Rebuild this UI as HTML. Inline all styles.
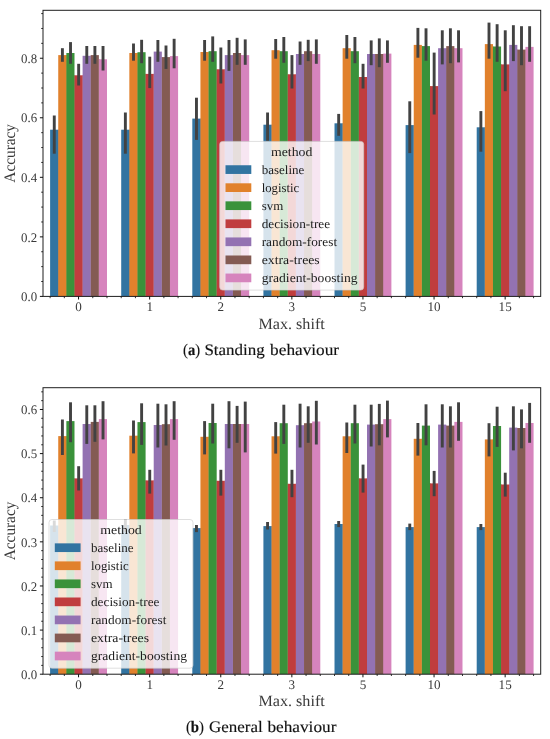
<!DOCTYPE html>
<html lang="en">
<head>
<meta charset="utf-8">
<title>Accuracy vs. max. shift</title>
<style>
html,body{margin:0;padding:0;background:#ffffff;}
body{width:550px;height:739px;overflow:hidden;}
svg{display:block;}
svg text{font-family:"Liberation Serif", serif;fill:#3a3a3a;text-rendering:geometricPrecision;}
svg text.lg{fill:#1c1c1c;}
svg text.cap{font-family:"Liberation Serif", "DejaVu Serif", serif;fill:#111111;stroke:#111111;stroke-width:0.15px;}
</style>
</head>
<body>
<svg width="550" height="739" viewBox="0 0 550 739">
<rect x="0" y="0" width="550" height="739" fill="#ffffff"/>
<g id="chart-a">
<rect x="50.11" y="129.7" width="8.13" height="166.7" fill="#3274a1"/>
<rect x="58.04" y="129.7" width="0.8" height="166.7" fill="#3274a1"/>
<rect x="58.24" y="55.1" width="8.13" height="241.3" fill="#e1812c"/>
<rect x="66.16" y="55.1" width="0.8" height="241.3" fill="#e1812c"/>
<rect x="66.36" y="53" width="8.13" height="243.4" fill="#3a923a"/>
<rect x="74.29" y="75.3" width="0.8" height="221.1" fill="#3a923a"/>
<rect x="74.49" y="75.3" width="8.13" height="221.1" fill="#c03d3e"/>
<rect x="82.41" y="75.3" width="0.8" height="221.1" fill="#c03d3e"/>
<rect x="82.61" y="55.8" width="8.13" height="240.6" fill="#9372b2"/>
<rect x="90.54" y="55.8" width="0.8" height="240.6" fill="#9372b2"/>
<rect x="90.74" y="55.1" width="8.13" height="241.3" fill="#845b53"/>
<rect x="98.66" y="59.3" width="0.8" height="237.1" fill="#845b53"/>
<rect x="98.86" y="59.3" width="8.13" height="237.1" fill="#d684bd"/>
<line x1="54.27" y1="115.5" x2="54.27" y2="153.7" stroke="#424242" stroke-width="2.9"/>
<line x1="62.4" y1="48.2" x2="62.4" y2="61.8" stroke="#424242" stroke-width="2.9"/>
<line x1="70.52" y1="42.1" x2="70.52" y2="63.8" stroke="#424242" stroke-width="2.9"/>
<line x1="78.65" y1="63.8" x2="78.65" y2="85.5" stroke="#424242" stroke-width="2.9"/>
<line x1="86.78" y1="46" x2="86.78" y2="63.8" stroke="#424242" stroke-width="2.9"/>
<line x1="94.9" y1="46" x2="94.9" y2="63.8" stroke="#424242" stroke-width="2.9"/>
<line x1="103.03" y1="46" x2="103.03" y2="70.5" stroke="#424242" stroke-width="2.9"/>
<rect x="121.21" y="129.7" width="8.13" height="166.7" fill="#3274a1"/>
<rect x="129.14" y="129.7" width="0.8" height="166.7" fill="#3274a1"/>
<rect x="129.34" y="53" width="8.13" height="243.4" fill="#e1812c"/>
<rect x="137.26" y="53" width="0.8" height="243.4" fill="#e1812c"/>
<rect x="137.46" y="52.2" width="8.13" height="244.2" fill="#3a923a"/>
<rect x="145.39" y="73.9" width="0.8" height="222.5" fill="#3a923a"/>
<rect x="145.59" y="73.9" width="8.13" height="222.5" fill="#c03d3e"/>
<rect x="153.51" y="73.9" width="0.8" height="222.5" fill="#c03d3e"/>
<rect x="153.71" y="51.6" width="8.13" height="244.8" fill="#9372b2"/>
<rect x="161.64" y="57.1" width="0.8" height="239.3" fill="#9372b2"/>
<rect x="161.84" y="57.1" width="8.13" height="239.3" fill="#845b53"/>
<rect x="169.76" y="57.1" width="0.8" height="239.3" fill="#845b53"/>
<rect x="169.96" y="56.1" width="8.13" height="240.3" fill="#d684bd"/>
<line x1="125.37" y1="112.5" x2="125.37" y2="153.7" stroke="#424242" stroke-width="2.9"/>
<line x1="133.5" y1="43.5" x2="133.5" y2="60.7" stroke="#424242" stroke-width="2.9"/>
<line x1="141.62" y1="39.8" x2="141.62" y2="63.2" stroke="#424242" stroke-width="2.9"/>
<line x1="149.75" y1="56.7" x2="149.75" y2="88.1" stroke="#424242" stroke-width="2.9"/>
<line x1="157.88" y1="40" x2="157.88" y2="61.8" stroke="#424242" stroke-width="2.9"/>
<line x1="166" y1="45.5" x2="166" y2="68.9" stroke="#424242" stroke-width="2.9"/>
<line x1="174.13" y1="38.8" x2="174.13" y2="68.3" stroke="#424242" stroke-width="2.9"/>
<rect x="192.31" y="118.6" width="8.13" height="177.8" fill="#3274a1"/>
<rect x="200.24" y="118.6" width="0.8" height="177.8" fill="#3274a1"/>
<rect x="200.44" y="52" width="8.13" height="244.4" fill="#e1812c"/>
<rect x="208.36" y="52" width="0.8" height="244.4" fill="#e1812c"/>
<rect x="208.56" y="51.2" width="8.13" height="245.2" fill="#3a923a"/>
<rect x="216.49" y="69.3" width="0.8" height="227.1" fill="#3a923a"/>
<rect x="216.69" y="69.3" width="8.13" height="227.1" fill="#c03d3e"/>
<rect x="224.61" y="69.3" width="0.8" height="227.1" fill="#c03d3e"/>
<rect x="224.81" y="55.1" width="8.13" height="241.3" fill="#9372b2"/>
<rect x="232.74" y="55.1" width="0.8" height="241.3" fill="#9372b2"/>
<rect x="232.94" y="53" width="8.13" height="243.4" fill="#845b53"/>
<rect x="240.86" y="55.1" width="0.8" height="241.3" fill="#845b53"/>
<rect x="241.06" y="55.1" width="8.13" height="241.3" fill="#d684bd"/>
<line x1="196.47" y1="97.7" x2="196.47" y2="139.9" stroke="#424242" stroke-width="2.9"/>
<line x1="204.6" y1="40" x2="204.6" y2="60.7" stroke="#424242" stroke-width="2.9"/>
<line x1="212.72" y1="36.4" x2="212.72" y2="61.8" stroke="#424242" stroke-width="2.9"/>
<line x1="220.85" y1="47.5" x2="220.85" y2="83.5" stroke="#424242" stroke-width="2.9"/>
<line x1="228.98" y1="40" x2="228.98" y2="70.9" stroke="#424242" stroke-width="2.9"/>
<line x1="237.1" y1="37.8" x2="237.1" y2="64.8" stroke="#424242" stroke-width="2.9"/>
<line x1="245.23" y1="39.4" x2="245.23" y2="64.8" stroke="#424242" stroke-width="2.9"/>
<rect x="263.41" y="124.7" width="8.13" height="171.7" fill="#3274a1"/>
<rect x="271.34" y="124.7" width="0.8" height="171.7" fill="#3274a1"/>
<rect x="271.54" y="50.2" width="8.13" height="246.2" fill="#e1812c"/>
<rect x="279.46" y="51.2" width="0.8" height="245.2" fill="#e1812c"/>
<rect x="279.66" y="51.2" width="8.13" height="245.2" fill="#3a923a"/>
<rect x="287.59" y="74.3" width="0.8" height="222.1" fill="#3a923a"/>
<rect x="287.79" y="74.3" width="8.13" height="222.1" fill="#c03d3e"/>
<rect x="295.71" y="74.3" width="0.8" height="222.1" fill="#c03d3e"/>
<rect x="295.91" y="54" width="8.13" height="242.4" fill="#9372b2"/>
<rect x="303.84" y="54" width="0.8" height="242.4" fill="#9372b2"/>
<rect x="304.04" y="51.2" width="8.13" height="245.2" fill="#845b53"/>
<rect x="311.96" y="54" width="0.8" height="242.4" fill="#845b53"/>
<rect x="312.16" y="54" width="8.13" height="242.4" fill="#d684bd"/>
<line x1="267.57" y1="112.5" x2="267.57" y2="140.9" stroke="#424242" stroke-width="2.9"/>
<line x1="275.7" y1="39" x2="275.7" y2="58.7" stroke="#424242" stroke-width="2.9"/>
<line x1="283.82" y1="37" x2="283.82" y2="62.8" stroke="#424242" stroke-width="2.9"/>
<line x1="291.95" y1="55.1" x2="291.95" y2="88.5" stroke="#424242" stroke-width="2.9"/>
<line x1="300.08" y1="41.5" x2="300.08" y2="64.8" stroke="#424242" stroke-width="2.9"/>
<line x1="308.2" y1="39.8" x2="308.2" y2="61.1" stroke="#424242" stroke-width="2.9"/>
<line x1="316.33" y1="39.4" x2="316.33" y2="63.8" stroke="#424242" stroke-width="2.9"/>
<rect x="334.51" y="123.3" width="8.13" height="173.1" fill="#3274a1"/>
<rect x="342.44" y="123.3" width="0.8" height="173.1" fill="#3274a1"/>
<rect x="342.64" y="48.2" width="8.13" height="248.2" fill="#e1812c"/>
<rect x="350.56" y="51.2" width="0.8" height="245.2" fill="#e1812c"/>
<rect x="350.76" y="51.2" width="8.13" height="245.2" fill="#3a923a"/>
<rect x="358.69" y="77" width="0.8" height="219.4" fill="#3a923a"/>
<rect x="358.89" y="77" width="8.13" height="219.4" fill="#c03d3e"/>
<rect x="366.81" y="77" width="0.8" height="219.4" fill="#c03d3e"/>
<rect x="367.01" y="54" width="8.13" height="242.4" fill="#9372b2"/>
<rect x="374.94" y="54" width="0.8" height="242.4" fill="#9372b2"/>
<rect x="375.14" y="54" width="8.13" height="242.4" fill="#845b53"/>
<rect x="383.06" y="54" width="0.8" height="242.4" fill="#845b53"/>
<rect x="383.26" y="53.6" width="8.13" height="242.8" fill="#d684bd"/>
<line x1="338.67" y1="113.9" x2="338.67" y2="135.8" stroke="#424242" stroke-width="2.9"/>
<line x1="346.8" y1="35" x2="346.8" y2="58.7" stroke="#424242" stroke-width="2.9"/>
<line x1="354.92" y1="37" x2="354.92" y2="63.2" stroke="#424242" stroke-width="2.9"/>
<line x1="363.05" y1="63.8" x2="363.05" y2="88.5" stroke="#424242" stroke-width="2.9"/>
<line x1="371.18" y1="40.4" x2="371.18" y2="65.2" stroke="#424242" stroke-width="2.9"/>
<line x1="379.3" y1="38.4" x2="379.3" y2="67.2" stroke="#424242" stroke-width="2.9"/>
<line x1="387.43" y1="40.4" x2="387.43" y2="62.8" stroke="#424242" stroke-width="2.9"/>
<rect x="405.61" y="125.1" width="8.13" height="171.3" fill="#3274a1"/>
<rect x="413.54" y="125.1" width="0.8" height="171.3" fill="#3274a1"/>
<rect x="413.74" y="44.9" width="8.13" height="251.5" fill="#e1812c"/>
<rect x="421.66" y="46.1" width="0.8" height="250.3" fill="#e1812c"/>
<rect x="421.86" y="46.1" width="8.13" height="250.3" fill="#3a923a"/>
<rect x="429.79" y="86.1" width="0.8" height="210.3" fill="#3a923a"/>
<rect x="429.99" y="86.1" width="8.13" height="210.3" fill="#c03d3e"/>
<rect x="437.91" y="86.1" width="0.8" height="210.3" fill="#c03d3e"/>
<rect x="438.11" y="48.2" width="8.13" height="248.2" fill="#9372b2"/>
<rect x="446.04" y="48.2" width="0.8" height="248.2" fill="#9372b2"/>
<rect x="446.24" y="46.1" width="8.13" height="250.3" fill="#845b53"/>
<rect x="454.16" y="48.2" width="0.8" height="248.2" fill="#845b53"/>
<rect x="454.36" y="48.2" width="8.13" height="248.2" fill="#d684bd"/>
<line x1="409.77" y1="101.3" x2="409.77" y2="153.1" stroke="#424242" stroke-width="2.9"/>
<line x1="417.9" y1="27.9" x2="417.9" y2="57.7" stroke="#424242" stroke-width="2.9"/>
<line x1="426.02" y1="28.3" x2="426.02" y2="60.7" stroke="#424242" stroke-width="2.9"/>
<line x1="434.15" y1="52.6" x2="434.15" y2="114.5" stroke="#424242" stroke-width="2.9"/>
<line x1="442.28" y1="30.3" x2="442.28" y2="64.4" stroke="#424242" stroke-width="2.9"/>
<line x1="450.4" y1="28.3" x2="450.4" y2="63.2" stroke="#424242" stroke-width="2.9"/>
<line x1="458.53" y1="30.3" x2="458.53" y2="62.4" stroke="#424242" stroke-width="2.9"/>
<rect x="476.71" y="127.3" width="8.13" height="169.1" fill="#3274a1"/>
<rect x="484.64" y="127.3" width="0.8" height="169.1" fill="#3274a1"/>
<rect x="484.84" y="44.1" width="8.13" height="252.3" fill="#e1812c"/>
<rect x="492.76" y="46.5" width="0.8" height="249.9" fill="#e1812c"/>
<rect x="492.96" y="46.5" width="8.13" height="249.9" fill="#3a923a"/>
<rect x="500.89" y="64.4" width="0.8" height="232" fill="#3a923a"/>
<rect x="501.09" y="64.4" width="8.13" height="232" fill="#c03d3e"/>
<rect x="509.01" y="64.4" width="0.8" height="232" fill="#c03d3e"/>
<rect x="509.21" y="44.9" width="8.13" height="251.5" fill="#9372b2"/>
<rect x="517.14" y="49.6" width="0.8" height="246.8" fill="#9372b2"/>
<rect x="517.34" y="49.6" width="8.13" height="246.8" fill="#845b53"/>
<rect x="525.26" y="49.6" width="0.8" height="246.8" fill="#845b53"/>
<rect x="525.46" y="46.9" width="8.13" height="249.5" fill="#d684bd"/>
<line x1="480.87" y1="111.1" x2="480.87" y2="151.7" stroke="#424242" stroke-width="2.9"/>
<line x1="489" y1="22.6" x2="489" y2="58.7" stroke="#424242" stroke-width="2.9"/>
<line x1="497.12" y1="24.2" x2="497.12" y2="61.8" stroke="#424242" stroke-width="2.9"/>
<line x1="505.25" y1="30.3" x2="505.25" y2="91.2" stroke="#424242" stroke-width="2.9"/>
<line x1="513.38" y1="25.2" x2="513.38" y2="61.1" stroke="#424242" stroke-width="2.9"/>
<line x1="521.5" y1="26.2" x2="521.5" y2="65.2" stroke="#424242" stroke-width="2.9"/>
<line x1="529.63" y1="26.2" x2="529.63" y2="61.8" stroke="#424242" stroke-width="2.9"/>
<rect x="43" y="10.3" width="497.7" height="286.1" fill="none" stroke="#1e1e1e" stroke-width="1"/>
<line x1="78.55" y1="296.4" x2="78.55" y2="299.5" stroke="#111111" stroke-width="1"/>
<text x="78.55" y="311.2" text-anchor="middle" font-size="13.1">0</text>
<line x1="149.65" y1="296.4" x2="149.65" y2="299.5" stroke="#111111" stroke-width="1"/>
<text x="149.65" y="311.2" text-anchor="middle" font-size="13.1">1</text>
<line x1="220.75" y1="296.4" x2="220.75" y2="299.5" stroke="#111111" stroke-width="1"/>
<text x="220.75" y="311.2" text-anchor="middle" font-size="13.1">2</text>
<line x1="291.85" y1="296.4" x2="291.85" y2="299.5" stroke="#111111" stroke-width="1"/>
<text x="291.85" y="311.2" text-anchor="middle" font-size="13.1">3</text>
<line x1="362.95" y1="296.4" x2="362.95" y2="299.5" stroke="#111111" stroke-width="1"/>
<text x="362.95" y="311.2" text-anchor="middle" font-size="13.1">5</text>
<line x1="434.05" y1="296.4" x2="434.05" y2="299.5" stroke="#111111" stroke-width="1"/>
<text x="434.05" y="311.2" text-anchor="middle" font-size="13.1">10</text>
<line x1="505.15" y1="296.4" x2="505.15" y2="299.5" stroke="#111111" stroke-width="1"/>
<text x="505.15" y="311.2" text-anchor="middle" font-size="13.1">15</text>
<line x1="50.11" y1="296.4" x2="50.11" y2="298.2" stroke="#111111" stroke-width="0.85"/>
<line x1="64.33" y1="296.4" x2="64.33" y2="298.2" stroke="#111111" stroke-width="0.85"/>
<line x1="92.77" y1="296.4" x2="92.77" y2="298.2" stroke="#111111" stroke-width="0.85"/>
<line x1="106.99" y1="296.4" x2="106.99" y2="298.2" stroke="#111111" stroke-width="0.85"/>
<line x1="121.21" y1="296.4" x2="121.21" y2="298.2" stroke="#111111" stroke-width="0.85"/>
<line x1="135.43" y1="296.4" x2="135.43" y2="298.2" stroke="#111111" stroke-width="0.85"/>
<line x1="163.87" y1="296.4" x2="163.87" y2="298.2" stroke="#111111" stroke-width="0.85"/>
<line x1="178.09" y1="296.4" x2="178.09" y2="298.2" stroke="#111111" stroke-width="0.85"/>
<line x1="192.31" y1="296.4" x2="192.31" y2="298.2" stroke="#111111" stroke-width="0.85"/>
<line x1="206.53" y1="296.4" x2="206.53" y2="298.2" stroke="#111111" stroke-width="0.85"/>
<line x1="234.97" y1="296.4" x2="234.97" y2="298.2" stroke="#111111" stroke-width="0.85"/>
<line x1="249.19" y1="296.4" x2="249.19" y2="298.2" stroke="#111111" stroke-width="0.85"/>
<line x1="263.41" y1="296.4" x2="263.41" y2="298.2" stroke="#111111" stroke-width="0.85"/>
<line x1="277.63" y1="296.4" x2="277.63" y2="298.2" stroke="#111111" stroke-width="0.85"/>
<line x1="306.07" y1="296.4" x2="306.07" y2="298.2" stroke="#111111" stroke-width="0.85"/>
<line x1="320.29" y1="296.4" x2="320.29" y2="298.2" stroke="#111111" stroke-width="0.85"/>
<line x1="334.51" y1="296.4" x2="334.51" y2="298.2" stroke="#111111" stroke-width="0.85"/>
<line x1="348.73" y1="296.4" x2="348.73" y2="298.2" stroke="#111111" stroke-width="0.85"/>
<line x1="377.17" y1="296.4" x2="377.17" y2="298.2" stroke="#111111" stroke-width="0.85"/>
<line x1="391.39" y1="296.4" x2="391.39" y2="298.2" stroke="#111111" stroke-width="0.85"/>
<line x1="405.61" y1="296.4" x2="405.61" y2="298.2" stroke="#111111" stroke-width="0.85"/>
<line x1="419.83" y1="296.4" x2="419.83" y2="298.2" stroke="#111111" stroke-width="0.85"/>
<line x1="448.27" y1="296.4" x2="448.27" y2="298.2" stroke="#111111" stroke-width="0.85"/>
<line x1="462.49" y1="296.4" x2="462.49" y2="298.2" stroke="#111111" stroke-width="0.85"/>
<line x1="476.71" y1="296.4" x2="476.71" y2="298.2" stroke="#111111" stroke-width="0.85"/>
<line x1="490.93" y1="296.4" x2="490.93" y2="298.2" stroke="#111111" stroke-width="0.85"/>
<line x1="519.37" y1="296.4" x2="519.37" y2="298.2" stroke="#111111" stroke-width="0.85"/>
<line x1="533.59" y1="296.4" x2="533.59" y2="298.2" stroke="#111111" stroke-width="0.85"/>
<line x1="43" y1="296.4" x2="39.9" y2="296.4" stroke="#111111" stroke-width="1"/>
<text x="37.2" y="301.1" text-anchor="end" font-size="13.1" textLength="16.1" lengthAdjust="spacingAndGlyphs">0.0</text>
<line x1="43" y1="236.86" x2="39.9" y2="236.86" stroke="#111111" stroke-width="1"/>
<text x="37.2" y="241.56" text-anchor="end" font-size="13.1" textLength="16.1" lengthAdjust="spacingAndGlyphs">0.2</text>
<line x1="43" y1="177.32" x2="39.9" y2="177.32" stroke="#111111" stroke-width="1"/>
<text x="37.2" y="182.02" text-anchor="end" font-size="13.1" textLength="16.1" lengthAdjust="spacingAndGlyphs">0.4</text>
<line x1="43" y1="117.78" x2="39.9" y2="117.78" stroke="#111111" stroke-width="1"/>
<text x="37.2" y="122.48" text-anchor="end" font-size="13.1" textLength="16.1" lengthAdjust="spacingAndGlyphs">0.6</text>
<line x1="43" y1="58.24" x2="39.9" y2="58.24" stroke="#111111" stroke-width="1"/>
<text x="37.2" y="62.94" text-anchor="end" font-size="13.1" textLength="16.1" lengthAdjust="spacingAndGlyphs">0.8</text>
<line x1="43" y1="281.51" x2="41.2" y2="281.51" stroke="#111111" stroke-width="0.85"/>
<line x1="43" y1="266.63" x2="41.2" y2="266.63" stroke="#111111" stroke-width="0.85"/>
<line x1="43" y1="251.74" x2="41.2" y2="251.74" stroke="#111111" stroke-width="0.85"/>
<line x1="43" y1="221.97" x2="41.2" y2="221.97" stroke="#111111" stroke-width="0.85"/>
<line x1="43" y1="207.09" x2="41.2" y2="207.09" stroke="#111111" stroke-width="0.85"/>
<line x1="43" y1="192.2" x2="41.2" y2="192.2" stroke="#111111" stroke-width="0.85"/>
<line x1="43" y1="162.43" x2="41.2" y2="162.43" stroke="#111111" stroke-width="0.85"/>
<line x1="43" y1="147.55" x2="41.2" y2="147.55" stroke="#111111" stroke-width="0.85"/>
<line x1="43" y1="132.66" x2="41.2" y2="132.66" stroke="#111111" stroke-width="0.85"/>
<line x1="43" y1="102.89" x2="41.2" y2="102.89" stroke="#111111" stroke-width="0.85"/>
<line x1="43" y1="88.01" x2="41.2" y2="88.01" stroke="#111111" stroke-width="0.85"/>
<line x1="43" y1="73.12" x2="41.2" y2="73.12" stroke="#111111" stroke-width="0.85"/>
<line x1="43" y1="43.35" x2="41.2" y2="43.35" stroke="#111111" stroke-width="0.85"/>
<line x1="43" y1="28.47" x2="41.2" y2="28.47" stroke="#111111" stroke-width="0.85"/>
<line x1="43" y1="13.58" x2="41.2" y2="13.58" stroke="#111111" stroke-width="0.85"/>
<text transform="translate(14.7,153.35) rotate(-90)" text-anchor="middle" font-size="16" textLength="58.6" lengthAdjust="spacingAndGlyphs">Accuracy</text>
<text x="291.6" y="328.6" text-anchor="middle" font-size="15.8" textLength="66.4" lengthAdjust="spacingAndGlyphs">Max. shift</text>
<rect x="219.7" y="141.4" width="144.0" height="148.7" rx="3" ry="3" fill="#ffffff" fill-opacity="0.8" stroke="#cccccc" stroke-opacity="0.7" stroke-width="0.9"/>
<text x="291.7" y="155.9" text-anchor="middle" font-size="12.8" class="lg" textLength="41.5" lengthAdjust="spacingAndGlyphs">method</text>
<rect x="225.5" y="165.25" width="25.8" height="8.7" fill="#3274a1"/>
<text x="261.7" y="173.9" font-size="12.8" class="lg" textLength="42.6" lengthAdjust="spacingAndGlyphs">baseline</text>
<rect x="225.5" y="183.3" width="25.8" height="8.7" fill="#e1812c"/>
<text x="261.7" y="191.88" font-size="12.8" class="lg" textLength="37.6" lengthAdjust="spacingAndGlyphs">logistic</text>
<rect x="225.5" y="201.35" width="25.8" height="8.7" fill="#3a923a"/>
<text x="261.7" y="209.86" font-size="12.8" class="lg" textLength="21.6" lengthAdjust="spacingAndGlyphs">svm</text>
<rect x="225.5" y="219.4" width="25.8" height="8.7" fill="#c03d3e"/>
<text x="261.7" y="227.84" font-size="12.8" class="lg" textLength="68.4" lengthAdjust="spacingAndGlyphs">decision-tree</text>
<rect x="225.5" y="237.45" width="25.8" height="8.7" fill="#9372b2"/>
<text x="261.7" y="245.82" font-size="12.8" class="lg" textLength="75.4" lengthAdjust="spacingAndGlyphs">random-forest</text>
<rect x="225.5" y="255.5" width="25.8" height="8.7" fill="#845b53"/>
<text x="261.7" y="263.8" font-size="12.8" class="lg" textLength="58.0" lengthAdjust="spacingAndGlyphs">extra-trees</text>
<rect x="225.5" y="273.55" width="25.8" height="8.7" fill="#d684bd"/>
<text x="261.7" y="281.78" font-size="12.8" class="lg" textLength="96.0" lengthAdjust="spacingAndGlyphs">gradient-boosting</text>
</g>
<text class="cap" y="355.3" font-size="16"><tspan x="183.1" textLength="17" lengthAdjust="spacingAndGlyphs">(<tspan font-weight="bold">a</tspan>)</tspan> <tspan x="204.4" textLength="60.3" lengthAdjust="spacingAndGlyphs">Standing</tspan> <tspan x="270.1" textLength="69" lengthAdjust="spacingAndGlyphs">behaviour</tspan></text>
<g id="chart-b">
<rect x="50.11" y="525.5" width="8.13" height="148.7" fill="#3274a1"/>
<rect x="58.04" y="525.5" width="0.8" height="148.7" fill="#3274a1"/>
<rect x="58.24" y="436.1" width="8.13" height="238.1" fill="#e1812c"/>
<rect x="66.16" y="436.1" width="0.8" height="238.1" fill="#e1812c"/>
<rect x="66.36" y="421.1" width="8.13" height="253.1" fill="#3a923a"/>
<rect x="74.29" y="478.4" width="0.8" height="195.8" fill="#3a923a"/>
<rect x="74.49" y="478.4" width="8.13" height="195.8" fill="#c03d3e"/>
<rect x="82.41" y="478.4" width="0.8" height="195.8" fill="#c03d3e"/>
<rect x="82.61" y="424" width="8.13" height="250.2" fill="#9372b2"/>
<rect x="90.54" y="424" width="0.8" height="250.2" fill="#9372b2"/>
<rect x="90.74" y="421.9" width="8.13" height="252.3" fill="#845b53"/>
<rect x="98.66" y="421.9" width="0.8" height="252.3" fill="#845b53"/>
<rect x="98.86" y="419.1" width="8.13" height="255.1" fill="#d684bd"/>
<line x1="54.27" y1="520.5" x2="54.27" y2="532" stroke="#424242" stroke-width="2.9"/>
<line x1="62.4" y1="419.5" x2="62.4" y2="455" stroke="#424242" stroke-width="2.9"/>
<line x1="70.52" y1="402.3" x2="70.52" y2="442.2" stroke="#424242" stroke-width="2.9"/>
<line x1="78.65" y1="466.2" x2="78.65" y2="490.5" stroke="#424242" stroke-width="2.9"/>
<line x1="86.78" y1="405.3" x2="86.78" y2="443.9" stroke="#424242" stroke-width="2.9"/>
<line x1="94.9" y1="405.3" x2="94.9" y2="441.8" stroke="#424242" stroke-width="2.9"/>
<line x1="103.03" y1="401.2" x2="103.03" y2="439.4" stroke="#424242" stroke-width="2.9"/>
<rect x="121.21" y="525" width="8.13" height="149.2" fill="#3274a1"/>
<rect x="129.14" y="525" width="0.8" height="149.2" fill="#3274a1"/>
<rect x="129.34" y="435.7" width="8.13" height="238.5" fill="#e1812c"/>
<rect x="137.26" y="435.7" width="0.8" height="238.5" fill="#e1812c"/>
<rect x="137.46" y="422.1" width="8.13" height="252.1" fill="#3a923a"/>
<rect x="145.39" y="480.4" width="0.8" height="193.8" fill="#3a923a"/>
<rect x="145.59" y="480.4" width="8.13" height="193.8" fill="#c03d3e"/>
<rect x="153.51" y="480.4" width="0.8" height="193.8" fill="#c03d3e"/>
<rect x="153.71" y="425" width="8.13" height="249.2" fill="#9372b2"/>
<rect x="161.64" y="425" width="0.8" height="249.2" fill="#9372b2"/>
<rect x="161.84" y="424.2" width="8.13" height="250" fill="#845b53"/>
<rect x="169.76" y="424.2" width="0.8" height="250" fill="#845b53"/>
<rect x="169.96" y="419.1" width="8.13" height="255.1" fill="#d684bd"/>
<line x1="125.37" y1="519.2" x2="125.37" y2="532" stroke="#424242" stroke-width="2.9"/>
<line x1="133.5" y1="420.5" x2="133.5" y2="453.4" stroke="#424242" stroke-width="2.9"/>
<line x1="141.62" y1="403.3" x2="141.62" y2="444.9" stroke="#424242" stroke-width="2.9"/>
<line x1="149.75" y1="469.8" x2="149.75" y2="493.6" stroke="#424242" stroke-width="2.9"/>
<line x1="157.88" y1="403.7" x2="157.88" y2="447.5" stroke="#424242" stroke-width="2.9"/>
<line x1="166" y1="404.3" x2="166" y2="445.5" stroke="#424242" stroke-width="2.9"/>
<line x1="174.13" y1="401.2" x2="174.13" y2="439.8" stroke="#424242" stroke-width="2.9"/>
<rect x="192.31" y="528.1" width="8.13" height="146.1" fill="#3274a1"/>
<rect x="200.24" y="528.1" width="0.8" height="146.1" fill="#3274a1"/>
<rect x="200.44" y="436.8" width="8.13" height="237.4" fill="#e1812c"/>
<rect x="208.36" y="436.8" width="0.8" height="237.4" fill="#e1812c"/>
<rect x="208.56" y="423" width="8.13" height="251.2" fill="#3a923a"/>
<rect x="216.49" y="480.8" width="0.8" height="193.4" fill="#3a923a"/>
<rect x="216.69" y="480.8" width="8.13" height="193.4" fill="#c03d3e"/>
<rect x="224.61" y="480.8" width="0.8" height="193.4" fill="#c03d3e"/>
<rect x="224.81" y="424" width="8.13" height="250.2" fill="#9372b2"/>
<rect x="232.74" y="424" width="0.8" height="250.2" fill="#9372b2"/>
<rect x="232.94" y="424" width="8.13" height="250.2" fill="#845b53"/>
<rect x="240.86" y="424" width="0.8" height="250.2" fill="#845b53"/>
<rect x="241.06" y="424" width="8.13" height="250.2" fill="#d684bd"/>
<line x1="196.47" y1="525" x2="196.47" y2="532.1" stroke="#424242" stroke-width="2.9"/>
<line x1="204.6" y1="421.1" x2="204.6" y2="454.4" stroke="#424242" stroke-width="2.9"/>
<line x1="212.72" y1="403.7" x2="212.72" y2="443.5" stroke="#424242" stroke-width="2.9"/>
<line x1="220.85" y1="469.8" x2="220.85" y2="495.6" stroke="#424242" stroke-width="2.9"/>
<line x1="228.98" y1="401.2" x2="228.98" y2="448.3" stroke="#424242" stroke-width="2.9"/>
<line x1="237.1" y1="405.9" x2="237.1" y2="442.8" stroke="#424242" stroke-width="2.9"/>
<line x1="245.23" y1="401.6" x2="245.23" y2="452.4" stroke="#424242" stroke-width="2.9"/>
<rect x="263.41" y="526.1" width="8.13" height="148.1" fill="#3274a1"/>
<rect x="271.34" y="526.1" width="0.8" height="148.1" fill="#3274a1"/>
<rect x="271.54" y="436.3" width="8.13" height="237.9" fill="#e1812c"/>
<rect x="279.46" y="436.3" width="0.8" height="237.9" fill="#e1812c"/>
<rect x="279.66" y="423.2" width="8.13" height="251" fill="#3a923a"/>
<rect x="287.59" y="483.8" width="0.8" height="190.4" fill="#3a923a"/>
<rect x="287.79" y="483.8" width="8.13" height="190.4" fill="#c03d3e"/>
<rect x="295.71" y="483.8" width="0.8" height="190.4" fill="#c03d3e"/>
<rect x="295.91" y="425.2" width="8.13" height="249" fill="#9372b2"/>
<rect x="303.84" y="425.2" width="0.8" height="249" fill="#9372b2"/>
<rect x="304.04" y="423.2" width="8.13" height="251" fill="#845b53"/>
<rect x="311.96" y="423.2" width="0.8" height="251" fill="#845b53"/>
<rect x="312.16" y="421.5" width="8.13" height="252.7" fill="#d684bd"/>
<line x1="267.57" y1="522" x2="267.57" y2="529.5" stroke="#424242" stroke-width="2.9"/>
<line x1="275.7" y1="422.1" x2="275.7" y2="453.6" stroke="#424242" stroke-width="2.9"/>
<line x1="283.82" y1="404.7" x2="283.82" y2="443.9" stroke="#424242" stroke-width="2.9"/>
<line x1="291.95" y1="469.8" x2="291.95" y2="497.2" stroke="#424242" stroke-width="2.9"/>
<line x1="300.08" y1="403.7" x2="300.08" y2="447.5" stroke="#424242" stroke-width="2.9"/>
<line x1="308.2" y1="406.3" x2="308.2" y2="442.8" stroke="#424242" stroke-width="2.9"/>
<line x1="316.33" y1="400.8" x2="316.33" y2="444.5" stroke="#424242" stroke-width="2.9"/>
<rect x="334.51" y="524" width="8.13" height="150.2" fill="#3274a1"/>
<rect x="342.44" y="524" width="0.8" height="150.2" fill="#3274a1"/>
<rect x="342.64" y="436.3" width="8.13" height="237.9" fill="#e1812c"/>
<rect x="350.56" y="436.3" width="0.8" height="237.9" fill="#e1812c"/>
<rect x="350.76" y="423.2" width="8.13" height="251" fill="#3a923a"/>
<rect x="358.69" y="478.4" width="0.8" height="195.8" fill="#3a923a"/>
<rect x="358.89" y="478.4" width="8.13" height="195.8" fill="#c03d3e"/>
<rect x="366.81" y="478.4" width="0.8" height="195.8" fill="#c03d3e"/>
<rect x="367.01" y="424.6" width="8.13" height="249.6" fill="#9372b2"/>
<rect x="374.94" y="424.6" width="0.8" height="249.6" fill="#9372b2"/>
<rect x="375.14" y="424.2" width="8.13" height="250" fill="#845b53"/>
<rect x="383.06" y="424.2" width="0.8" height="250" fill="#845b53"/>
<rect x="383.26" y="419.1" width="8.13" height="255.1" fill="#d684bd"/>
<line x1="338.67" y1="521" x2="338.67" y2="527.1" stroke="#424242" stroke-width="2.9"/>
<line x1="346.8" y1="422.5" x2="346.8" y2="453" stroke="#424242" stroke-width="2.9"/>
<line x1="354.92" y1="404.7" x2="354.92" y2="443.5" stroke="#424242" stroke-width="2.9"/>
<line x1="363.05" y1="464.6" x2="363.05" y2="492.6" stroke="#424242" stroke-width="2.9"/>
<line x1="371.18" y1="404.7" x2="371.18" y2="446.5" stroke="#424242" stroke-width="2.9"/>
<line x1="379.3" y1="403.9" x2="379.3" y2="445.3" stroke="#424242" stroke-width="2.9"/>
<line x1="387.43" y1="400.6" x2="387.43" y2="437.4" stroke="#424242" stroke-width="2.9"/>
<rect x="405.61" y="527.1" width="8.13" height="147.1" fill="#3274a1"/>
<rect x="413.54" y="527.1" width="0.8" height="147.1" fill="#3274a1"/>
<rect x="413.74" y="438.8" width="8.13" height="235.4" fill="#e1812c"/>
<rect x="421.66" y="438.8" width="0.8" height="235.4" fill="#e1812c"/>
<rect x="421.86" y="425.6" width="8.13" height="248.6" fill="#3a923a"/>
<rect x="429.79" y="483.4" width="0.8" height="190.8" fill="#3a923a"/>
<rect x="429.99" y="483.4" width="8.13" height="190.8" fill="#c03d3e"/>
<rect x="437.91" y="483.4" width="0.8" height="190.8" fill="#c03d3e"/>
<rect x="438.11" y="424.6" width="8.13" height="249.6" fill="#9372b2"/>
<rect x="446.04" y="425.6" width="0.8" height="248.6" fill="#9372b2"/>
<rect x="446.24" y="425.6" width="8.13" height="248.6" fill="#845b53"/>
<rect x="454.16" y="425.6" width="0.8" height="248.6" fill="#845b53"/>
<rect x="454.36" y="421.9" width="8.13" height="252.3" fill="#d684bd"/>
<line x1="409.77" y1="523.6" x2="409.77" y2="530.1" stroke="#424242" stroke-width="2.9"/>
<line x1="417.9" y1="423" x2="417.9" y2="455.6" stroke="#424242" stroke-width="2.9"/>
<line x1="426.02" y1="404.3" x2="426.02" y2="445.3" stroke="#424242" stroke-width="2.9"/>
<line x1="434.15" y1="470.9" x2="434.15" y2="496.2" stroke="#424242" stroke-width="2.9"/>
<line x1="442.28" y1="404.3" x2="442.28" y2="447.5" stroke="#424242" stroke-width="2.9"/>
<line x1="450.4" y1="406.3" x2="450.4" y2="447.5" stroke="#424242" stroke-width="2.9"/>
<line x1="458.53" y1="402.3" x2="458.53" y2="440.8" stroke="#424242" stroke-width="2.9"/>
<rect x="476.71" y="527.1" width="8.13" height="147.1" fill="#3274a1"/>
<rect x="484.64" y="527.1" width="0.8" height="147.1" fill="#3274a1"/>
<rect x="484.84" y="439.4" width="8.13" height="234.8" fill="#e1812c"/>
<rect x="492.76" y="439.4" width="0.8" height="234.8" fill="#e1812c"/>
<rect x="492.96" y="426" width="8.13" height="248.2" fill="#3a923a"/>
<rect x="500.89" y="484.5" width="0.8" height="189.7" fill="#3a923a"/>
<rect x="501.09" y="484.5" width="8.13" height="189.7" fill="#c03d3e"/>
<rect x="509.01" y="484.5" width="0.8" height="189.7" fill="#c03d3e"/>
<rect x="509.21" y="427.6" width="8.13" height="246.6" fill="#9372b2"/>
<rect x="517.14" y="428" width="0.8" height="246.2" fill="#9372b2"/>
<rect x="517.34" y="428" width="8.13" height="246.2" fill="#845b53"/>
<rect x="525.26" y="428" width="0.8" height="246.2" fill="#845b53"/>
<rect x="525.46" y="423" width="8.13" height="251.2" fill="#d684bd"/>
<line x1="480.87" y1="524" x2="480.87" y2="530.1" stroke="#424242" stroke-width="2.9"/>
<line x1="489" y1="423.2" x2="489" y2="456.4" stroke="#424242" stroke-width="2.9"/>
<line x1="497.12" y1="406.7" x2="497.12" y2="446.9" stroke="#424242" stroke-width="2.9"/>
<line x1="505.25" y1="472.7" x2="505.25" y2="496.6" stroke="#424242" stroke-width="2.9"/>
<line x1="513.38" y1="406.3" x2="513.38" y2="450.4" stroke="#424242" stroke-width="2.9"/>
<line x1="521.5" y1="409.4" x2="521.5" y2="448.3" stroke="#424242" stroke-width="2.9"/>
<line x1="529.63" y1="402.9" x2="529.63" y2="442.8" stroke="#424242" stroke-width="2.9"/>
<rect x="43" y="387.7" width="497.7" height="286.5" fill="none" stroke="#1e1e1e" stroke-width="1"/>
<line x1="78.55" y1="674.2" x2="78.55" y2="677.3" stroke="#111111" stroke-width="1"/>
<text x="78.55" y="689" text-anchor="middle" font-size="13.1">0</text>
<line x1="149.65" y1="674.2" x2="149.65" y2="677.3" stroke="#111111" stroke-width="1"/>
<text x="149.65" y="689" text-anchor="middle" font-size="13.1">1</text>
<line x1="220.75" y1="674.2" x2="220.75" y2="677.3" stroke="#111111" stroke-width="1"/>
<text x="220.75" y="689" text-anchor="middle" font-size="13.1">2</text>
<line x1="291.85" y1="674.2" x2="291.85" y2="677.3" stroke="#111111" stroke-width="1"/>
<text x="291.85" y="689" text-anchor="middle" font-size="13.1">3</text>
<line x1="362.95" y1="674.2" x2="362.95" y2="677.3" stroke="#111111" stroke-width="1"/>
<text x="362.95" y="689" text-anchor="middle" font-size="13.1">5</text>
<line x1="434.05" y1="674.2" x2="434.05" y2="677.3" stroke="#111111" stroke-width="1"/>
<text x="434.05" y="689" text-anchor="middle" font-size="13.1">10</text>
<line x1="505.15" y1="674.2" x2="505.15" y2="677.3" stroke="#111111" stroke-width="1"/>
<text x="505.15" y="689" text-anchor="middle" font-size="13.1">15</text>
<line x1="50.11" y1="674.2" x2="50.11" y2="676" stroke="#111111" stroke-width="0.85"/>
<line x1="64.33" y1="674.2" x2="64.33" y2="676" stroke="#111111" stroke-width="0.85"/>
<line x1="92.77" y1="674.2" x2="92.77" y2="676" stroke="#111111" stroke-width="0.85"/>
<line x1="106.99" y1="674.2" x2="106.99" y2="676" stroke="#111111" stroke-width="0.85"/>
<line x1="121.21" y1="674.2" x2="121.21" y2="676" stroke="#111111" stroke-width="0.85"/>
<line x1="135.43" y1="674.2" x2="135.43" y2="676" stroke="#111111" stroke-width="0.85"/>
<line x1="163.87" y1="674.2" x2="163.87" y2="676" stroke="#111111" stroke-width="0.85"/>
<line x1="178.09" y1="674.2" x2="178.09" y2="676" stroke="#111111" stroke-width="0.85"/>
<line x1="192.31" y1="674.2" x2="192.31" y2="676" stroke="#111111" stroke-width="0.85"/>
<line x1="206.53" y1="674.2" x2="206.53" y2="676" stroke="#111111" stroke-width="0.85"/>
<line x1="234.97" y1="674.2" x2="234.97" y2="676" stroke="#111111" stroke-width="0.85"/>
<line x1="249.19" y1="674.2" x2="249.19" y2="676" stroke="#111111" stroke-width="0.85"/>
<line x1="263.41" y1="674.2" x2="263.41" y2="676" stroke="#111111" stroke-width="0.85"/>
<line x1="277.63" y1="674.2" x2="277.63" y2="676" stroke="#111111" stroke-width="0.85"/>
<line x1="306.07" y1="674.2" x2="306.07" y2="676" stroke="#111111" stroke-width="0.85"/>
<line x1="320.29" y1="674.2" x2="320.29" y2="676" stroke="#111111" stroke-width="0.85"/>
<line x1="334.51" y1="674.2" x2="334.51" y2="676" stroke="#111111" stroke-width="0.85"/>
<line x1="348.73" y1="674.2" x2="348.73" y2="676" stroke="#111111" stroke-width="0.85"/>
<line x1="377.17" y1="674.2" x2="377.17" y2="676" stroke="#111111" stroke-width="0.85"/>
<line x1="391.39" y1="674.2" x2="391.39" y2="676" stroke="#111111" stroke-width="0.85"/>
<line x1="405.61" y1="674.2" x2="405.61" y2="676" stroke="#111111" stroke-width="0.85"/>
<line x1="419.83" y1="674.2" x2="419.83" y2="676" stroke="#111111" stroke-width="0.85"/>
<line x1="448.27" y1="674.2" x2="448.27" y2="676" stroke="#111111" stroke-width="0.85"/>
<line x1="462.49" y1="674.2" x2="462.49" y2="676" stroke="#111111" stroke-width="0.85"/>
<line x1="476.71" y1="674.2" x2="476.71" y2="676" stroke="#111111" stroke-width="0.85"/>
<line x1="490.93" y1="674.2" x2="490.93" y2="676" stroke="#111111" stroke-width="0.85"/>
<line x1="519.37" y1="674.2" x2="519.37" y2="676" stroke="#111111" stroke-width="0.85"/>
<line x1="533.59" y1="674.2" x2="533.59" y2="676" stroke="#111111" stroke-width="0.85"/>
<line x1="43" y1="674.2" x2="39.9" y2="674.2" stroke="#111111" stroke-width="1"/>
<text x="37.2" y="678.9" text-anchor="end" font-size="13.1" textLength="16.1" lengthAdjust="spacingAndGlyphs">0.0</text>
<line x1="43" y1="630.08" x2="39.9" y2="630.08" stroke="#111111" stroke-width="1"/>
<text x="37.2" y="634.78" text-anchor="end" font-size="13.1" textLength="16.1" lengthAdjust="spacingAndGlyphs">0.1</text>
<line x1="43" y1="585.96" x2="39.9" y2="585.96" stroke="#111111" stroke-width="1"/>
<text x="37.2" y="590.66" text-anchor="end" font-size="13.1" textLength="16.1" lengthAdjust="spacingAndGlyphs">0.2</text>
<line x1="43" y1="541.84" x2="39.9" y2="541.84" stroke="#111111" stroke-width="1"/>
<text x="37.2" y="546.54" text-anchor="end" font-size="13.1" textLength="16.1" lengthAdjust="spacingAndGlyphs">0.3</text>
<line x1="43" y1="497.72" x2="39.9" y2="497.72" stroke="#111111" stroke-width="1"/>
<text x="37.2" y="502.42" text-anchor="end" font-size="13.1" textLength="16.1" lengthAdjust="spacingAndGlyphs">0.4</text>
<line x1="43" y1="453.6" x2="39.9" y2="453.6" stroke="#111111" stroke-width="1"/>
<text x="37.2" y="458.3" text-anchor="end" font-size="13.1" textLength="16.1" lengthAdjust="spacingAndGlyphs">0.5</text>
<line x1="43" y1="409.48" x2="39.9" y2="409.48" stroke="#111111" stroke-width="1"/>
<text x="37.2" y="414.18" text-anchor="end" font-size="13.1" textLength="16.1" lengthAdjust="spacingAndGlyphs">0.6</text>
<line x1="43" y1="665.38" x2="41.2" y2="665.38" stroke="#111111" stroke-width="0.85"/>
<line x1="43" y1="656.55" x2="41.2" y2="656.55" stroke="#111111" stroke-width="0.85"/>
<line x1="43" y1="647.73" x2="41.2" y2="647.73" stroke="#111111" stroke-width="0.85"/>
<line x1="43" y1="638.9" x2="41.2" y2="638.9" stroke="#111111" stroke-width="0.85"/>
<line x1="43" y1="621.26" x2="41.2" y2="621.26" stroke="#111111" stroke-width="0.85"/>
<line x1="43" y1="612.43" x2="41.2" y2="612.43" stroke="#111111" stroke-width="0.85"/>
<line x1="43" y1="603.61" x2="41.2" y2="603.61" stroke="#111111" stroke-width="0.85"/>
<line x1="43" y1="594.78" x2="41.2" y2="594.78" stroke="#111111" stroke-width="0.85"/>
<line x1="43" y1="577.14" x2="41.2" y2="577.14" stroke="#111111" stroke-width="0.85"/>
<line x1="43" y1="568.31" x2="41.2" y2="568.31" stroke="#111111" stroke-width="0.85"/>
<line x1="43" y1="559.49" x2="41.2" y2="559.49" stroke="#111111" stroke-width="0.85"/>
<line x1="43" y1="550.66" x2="41.2" y2="550.66" stroke="#111111" stroke-width="0.85"/>
<line x1="43" y1="533.02" x2="41.2" y2="533.02" stroke="#111111" stroke-width="0.85"/>
<line x1="43" y1="524.19" x2="41.2" y2="524.19" stroke="#111111" stroke-width="0.85"/>
<line x1="43" y1="515.37" x2="41.2" y2="515.37" stroke="#111111" stroke-width="0.85"/>
<line x1="43" y1="506.54" x2="41.2" y2="506.54" stroke="#111111" stroke-width="0.85"/>
<line x1="43" y1="488.9" x2="41.2" y2="488.9" stroke="#111111" stroke-width="0.85"/>
<line x1="43" y1="480.07" x2="41.2" y2="480.07" stroke="#111111" stroke-width="0.85"/>
<line x1="43" y1="471.25" x2="41.2" y2="471.25" stroke="#111111" stroke-width="0.85"/>
<line x1="43" y1="462.42" x2="41.2" y2="462.42" stroke="#111111" stroke-width="0.85"/>
<line x1="43" y1="444.78" x2="41.2" y2="444.78" stroke="#111111" stroke-width="0.85"/>
<line x1="43" y1="435.95" x2="41.2" y2="435.95" stroke="#111111" stroke-width="0.85"/>
<line x1="43" y1="427.13" x2="41.2" y2="427.13" stroke="#111111" stroke-width="0.85"/>
<line x1="43" y1="418.3" x2="41.2" y2="418.3" stroke="#111111" stroke-width="0.85"/>
<line x1="43" y1="400.66" x2="41.2" y2="400.66" stroke="#111111" stroke-width="0.85"/>
<line x1="43" y1="391.83" x2="41.2" y2="391.83" stroke="#111111" stroke-width="0.85"/>
<text transform="translate(14.7,530.95) rotate(-90)" text-anchor="middle" font-size="16" textLength="58.6" lengthAdjust="spacingAndGlyphs">Accuracy</text>
<text x="291.6" y="706.4" text-anchor="middle" font-size="15.8" textLength="66.4" lengthAdjust="spacingAndGlyphs">Max. shift</text>
<rect x="49" y="519.5" width="144.0" height="148.7" rx="3" ry="3" fill="#ffffff" fill-opacity="0.8" stroke="#cccccc" stroke-opacity="0.7" stroke-width="0.9"/>
<text x="121" y="534" text-anchor="middle" font-size="12.8" class="lg" textLength="41.5" lengthAdjust="spacingAndGlyphs">method</text>
<rect x="54.8" y="543.35" width="25.8" height="8.7" fill="#3274a1"/>
<text x="91" y="552" font-size="12.8" class="lg" textLength="42.6" lengthAdjust="spacingAndGlyphs">baseline</text>
<rect x="54.8" y="561.4" width="25.8" height="8.7" fill="#e1812c"/>
<text x="91" y="569.98" font-size="12.8" class="lg" textLength="37.6" lengthAdjust="spacingAndGlyphs">logistic</text>
<rect x="54.8" y="579.45" width="25.8" height="8.7" fill="#3a923a"/>
<text x="91" y="587.96" font-size="12.8" class="lg" textLength="21.6" lengthAdjust="spacingAndGlyphs">svm</text>
<rect x="54.8" y="597.5" width="25.8" height="8.7" fill="#c03d3e"/>
<text x="91" y="605.94" font-size="12.8" class="lg" textLength="68.4" lengthAdjust="spacingAndGlyphs">decision-tree</text>
<rect x="54.8" y="615.55" width="25.8" height="8.7" fill="#9372b2"/>
<text x="91" y="623.92" font-size="12.8" class="lg" textLength="75.4" lengthAdjust="spacingAndGlyphs">random-forest</text>
<rect x="54.8" y="633.6" width="25.8" height="8.7" fill="#845b53"/>
<text x="91" y="641.9" font-size="12.8" class="lg" textLength="58.0" lengthAdjust="spacingAndGlyphs">extra-trees</text>
<rect x="54.8" y="651.65" width="25.8" height="8.7" fill="#d684bd"/>
<text x="91" y="659.88" font-size="12.8" class="lg" textLength="96.0" lengthAdjust="spacingAndGlyphs">gradient-boosting</text>
</g>
<text class="cap" y="732.2" font-size="16"><tspan x="185.9" textLength="18.1" lengthAdjust="spacingAndGlyphs">(<tspan font-weight="bold">b</tspan>)</tspan> <tspan x="209.1" textLength="53.6" lengthAdjust="spacingAndGlyphs">General</tspan> <tspan x="267.4" textLength="69" lengthAdjust="spacingAndGlyphs">behaviour</tspan></text>
</svg>
</body>
</html>
